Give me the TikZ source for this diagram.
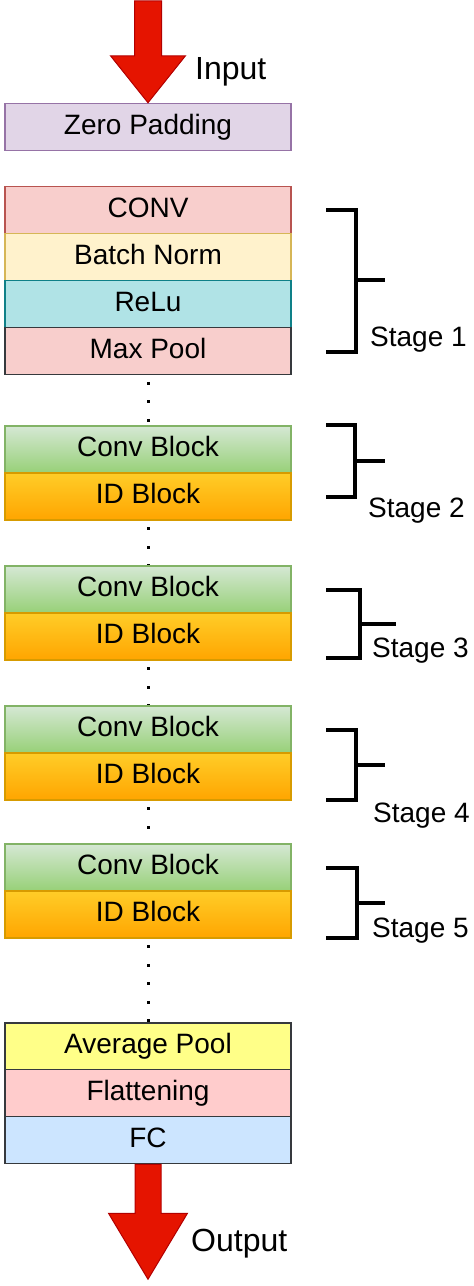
\documentclass[tikz,border=0pt]{standalone}
\usepackage{fontspec}
\setmainfont{Liberation Sans}
\definecolor{zerofill}{HTML}{E1D5E7}
\definecolor{zeroline}{HTML}{9673A6}
\definecolor{convfill}{HTML}{F8CECC}
\definecolor{convline}{HTML}{B85450}
\definecolor{bnfill}{HTML}{FFF2CC}
\definecolor{bnline}{HTML}{D6B656}
\definecolor{relufill}{HTML}{B0E3E6}
\definecolor{reluline}{HTML}{0E8088}
\definecolor{darkline}{HTML}{36393D}
\definecolor{greentop}{HTML}{D5E8D4}
\definecolor{greenbot}{HTML}{97D077}
\definecolor{greenline}{HTML}{82B366}
\definecolor{orangetop}{HTML}{FFCD28}
\definecolor{orangebot}{HTML}{FFA500}
\definecolor{orangeline}{HTML}{D79B00}
\definecolor{avgfill}{HTML}{FFFF88}
\definecolor{flatfill}{HTML}{FFCCCC}
\definecolor{fcfill}{HTML}{CCE5FF}
\definecolor{arrowred}{HTML}{E51400}
\definecolor{arrowline}{HTML}{B20000}
\begin{document}
\begin{tikzpicture}[x=1pt,y=-1pt,
    box/.style={draw,line width=1.5pt,minimum width=286pt,minimum height=47pt,inner sep=0pt,
        font=\fontsize{28}{32}\selectfont,text height=20pt,text depth=6pt},
    cblock/.style={box,draw=greenline,top color=greentop,bottom color=greenbot},
    idblock/.style={box,draw=orangeline,top color=orangetop,bottom color=orangebot},
    brace/.style={line width=4pt},
    dotline/.style={line width=3pt,dash pattern=on 3pt off 15.5pt,dash phase=12pt},
    bigarrow/.style={fill=arrowred,draw=arrowline,line width=1pt},
    lbl/.style={anchor=west,inner sep=0pt,font=\fontsize{28}{32}\selectfont,text height=20pt,text depth=0pt},
    biglbl/.style={anchor=west,inner sep=0pt,font=\fontsize{32}{36}\selectfont,text height=23pt,text depth=0pt}]
    \useasboundingbox (0,0) rectangle (474,1286);
    % input
    \node[box,draw=zeroline,fill=zerofill] (zero) at (148,127) {Zero Padding};
    \draw[bigarrow] (zero.north) -- ++(-37.5,-47) -- ++(24,0) -- ++(0,-55) -- ++(27,0)
        -- ++(0,55) -- ++(24,0) -- cycle;
    \node[biglbl] (in) at (195,68) {Input};
    % stage 1
    \node[box,draw=convline,fill=convfill] (conv) at (148,210) {CONV};
    \node[box,draw=bnline,fill=bnfill] (bn) at (148,257) {Batch Norm};
    \node[box,draw=reluline,fill=relufill] (relu) at (148,304) {ReLu};
    \node[box,draw=darkline,fill=convfill] (maxp) at (148,351) {Max Pool};
    \draw[brace] (326,210) -- (356,210) -- (356,352) -- (326,352) (356,280) -- (385,280);
    \node[lbl] (st1) at (370,336) {Stage 1};
    % stage 2
    \node[cblock] (cb2) at (148,449.5) {Conv Block};
    \node[idblock] (id2) at (148,496.5) {ID Block};
    \draw[brace] (326,425) -- (355,425) -- (355,497) -- (326,497) (355,461) -- (385,461);
    \node[lbl] (st2) at (368,507) {Stage 2};
    % stage 3
    \node[cblock] (cb3) at (148,589.5) {Conv Block};
    \node[idblock] (id3) at (148,636.5) {ID Block};
    \draw[brace] (326,590) -- (360,590) -- (360,658) -- (326,658) (360,624) -- (396,624);
    \node[lbl] (st3) at (372,647) {Stage 3};
    % stage 4
    \node[cblock] (cb4) at (148,729.5) {Conv Block};
    \node[idblock] (id4) at (148,776.5) {ID Block};
    \draw[brace] (326,730) -- (356,730) -- (356,800) -- (326,800) (356,765) -- (385,765);
    \node[lbl] (st4) at (373,812) {Stage 4};
    % stage 5
    \node[cblock] (cb5) at (148,867.5) {Conv Block};
    \node[idblock] (id5) at (148,914.5) {ID Block};
    \draw[brace] (326,868) -- (357,868) -- (357,938) -- (326,938) (357,903) -- (385,903);
    \node[lbl] (st5) at (372,927) {Stage 5};
    % head
    \node[box,draw=darkline,fill=avgfill] (avg) at (148,1046.5) {Average Pool};
    \node[box,draw=darkline,fill=flatfill] (flat) at (148,1093) {Flattening};
    \node[box,draw=darkline,fill=fcfill] (fc) at (148,1140) {FC};
    \draw[bigarrow] ([xshift=-13pt]fc.south) -- ++(0,49) -- ++(-26.5,0) -- ++(39.5,66)
        -- ++(39.5,-66) -- ++(-26.5,0) -- ++(0,-49) -- cycle;
    \node[biglbl] (out) at (191,1240) {Output};
    % dots
    \draw[dotline] (maxp.south) -- (cb2.north);
    \draw[dotline] (id2.south) -- (cb3.north);
    \draw[dotline] (id3.south) -- (cb4.north);
    \draw[dotline] (id4.south) -- (cb5.north);
    \draw[dotline] (id5.south) -- (avg.north);
\end{tikzpicture}
\end{document}
